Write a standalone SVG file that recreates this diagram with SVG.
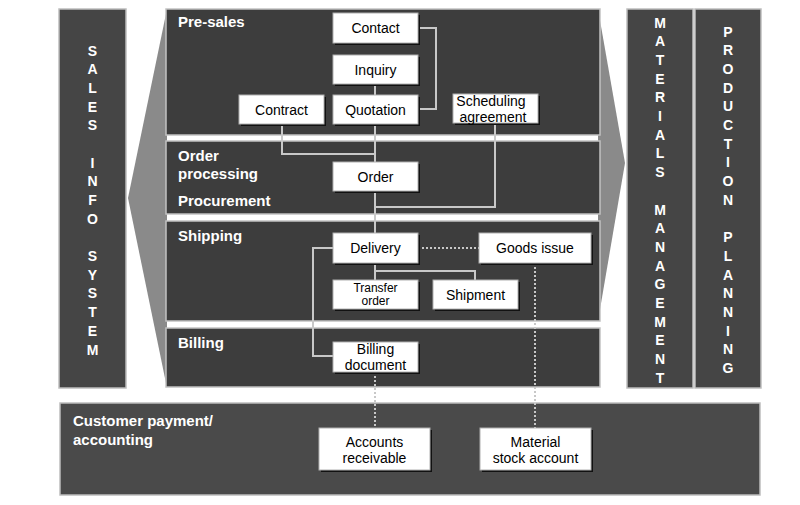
<svg xmlns="http://www.w3.org/2000/svg" width="800" height="505" viewBox="0 0 800 505">
<style>
.panel{fill:#3d3d3d;stroke:#c2c2c2;stroke-width:1.5}
.col{fill:#454545;stroke:#bdbdbd;stroke-width:1.5}
.wedge{fill:#8a8a8a}
.box{fill:#ffffff;stroke:#b0b0b0;stroke-width:1}
.shadow{fill:#111111}
.lbl{font-family:"Liberation Sans",Arial,sans-serif;font-size:15px;font-weight:bold;fill:#ffffff}
.vt{font-family:"Liberation Sans",Arial,sans-serif;font-size:14px;font-weight:bold;fill:#ffffff;text-anchor:middle}
.nt{font-family:"Liberation Sans",Arial,sans-serif;font-size:14px;fill:#000000;text-anchor:middle}
.line{fill:none;stroke:#c8c8c8;stroke-width:2}
.dot{fill:none;stroke:#c8c8c8;stroke-width:2;stroke-dasharray:2 2}
</style>
<rect width="800" height="505" fill="#ffffff"/>
<g id="wedges">
<polygon class="wedge" points="167,9 128,198 167,388"/>
<polygon class="wedge" points="598,9 625,163 598,321"/>
</g>
<g id="sales-info-system">
<rect class="col" x="59" y="9" width="67" height="379"/>
<text class="vt"><tspan x="92.5" y="55.5">S</tspan><tspan x="92.5" y="74.2">A</tspan><tspan x="92.5" y="92.9">L</tspan><tspan x="92.5" y="111.6">E</tspan><tspan x="92.5" y="130.3">S</tspan><tspan x="92.5" y="167.5">I</tspan><tspan x="92.5" y="186.2">N</tspan><tspan x="92.5" y="204.9">F</tspan><tspan x="92.5" y="223.6">O</tspan><tspan x="92.5" y="261">S</tspan><tspan x="92.5" y="279.7">Y</tspan><tspan x="92.5" y="298.4">S</tspan><tspan x="92.5" y="317.1">T</tspan><tspan x="92.5" y="335.8">E</tspan><tspan x="92.5" y="354.5">M</tspan></text>
</g>
<g id="materials-management">
<rect class="col" x="627" y="9" width="66" height="379"/>
<text class="vt"><tspan x="660" y="27.5">M</tspan><tspan x="660" y="46.2">A</tspan><tspan x="660" y="64.9">T</tspan><tspan x="660" y="83.6">E</tspan><tspan x="660" y="102.3">R</tspan><tspan x="660" y="121">I</tspan><tspan x="660" y="139.7">A</tspan><tspan x="660" y="158.4">L</tspan><tspan x="660" y="177.1">S</tspan><tspan x="660" y="214.5">M</tspan><tspan x="660" y="233.2">A</tspan><tspan x="660" y="251.9">N</tspan><tspan x="660" y="270.6">A</tspan><tspan x="660" y="289.3">G</tspan><tspan x="660" y="308">E</tspan><tspan x="660" y="326.7">M</tspan><tspan x="660" y="345.4">E</tspan><tspan x="660" y="364.1">N</tspan><tspan x="660" y="382.8">T</tspan></text>
</g>
<g id="production-planning">
<rect class="col" x="695" y="9" width="66" height="379"/>
<text class="vt"><tspan x="728" y="36.5">P</tspan><tspan x="728" y="55.2">R</tspan><tspan x="728" y="73.9">O</tspan><tspan x="728" y="92.6">D</tspan><tspan x="728" y="111.3">U</tspan><tspan x="728" y="130">C</tspan><tspan x="728" y="148.7">T</tspan><tspan x="728" y="167.4">I</tspan><tspan x="728" y="186.1">O</tspan><tspan x="728" y="204.8">N</tspan><tspan x="728" y="242.2">P</tspan><tspan x="728" y="260.9">L</tspan><tspan x="728" y="279.6">A</tspan><tspan x="728" y="298.3">N</tspan><tspan x="728" y="317">N</tspan><tspan x="728" y="335.7">I</tspan><tspan x="728" y="354.4">N</tspan><tspan x="728" y="373.1">G</tspan></text>
</g>
<g id="pre-sales">
<rect class="panel" x="166" y="9" width="434" height="126"/>
<text class="lbl" x="178" y="27">Pre-sales</text>
</g>
<g id="order-processing">
<rect class="panel" x="166" y="141" width="434" height="73"/>
<text class="lbl" x="178" y="161">Order</text>
<text class="lbl" x="178" y="179">processing</text>
<text class="lbl" x="178" y="206">Procurement</text>
</g>
<g id="shipping">
<rect class="panel" x="166" y="221" width="434" height="100"/>
<text class="lbl" x="178" y="241">Shipping</text>
</g>
<g id="billing">
<rect class="panel" x="166" y="328" width="434" height="59"/>
<text class="lbl" x="178" y="348">Billing</text>
</g>
<g id="customer-payment">
<rect class="col" x="60" y="403" width="700" height="92" style="fill:#4a4a4a"/>
<text class="lbl" x="73" y="426">Customer payment/</text>
<text class="lbl" x="73" y="445">accounting</text>
</g>
<g id="connectors">
<polyline class="line" points="418,28 436,28 436,109 418,109"/>
<line class="line" x1="375" y1="84" x2="375" y2="95"/>
<line class="line" x1="375" y1="124" x2="375" y2="162"/>
<polyline class="line" points="282,124 282,154 375,154"/>
<polyline class="line" points="495,123 495,207 375,207"/>
<line class="line" x1="375" y1="191" x2="375" y2="233"/>
<line class="line" x1="375" y1="263" x2="375" y2="280"/>
<polyline class="line" points="375,271 475,271 475,280"/>
<polyline class="line" points="333,248 313,248 313,356 333,356"/>
<line class="dot" x1="418" y1="248" x2="479" y2="248"/>
<line class="dot" x1="535" y1="263" x2="535" y2="428"/>
<line class="dot" x1="375" y1="372" x2="375" y2="428"/>
</g>
<g id="contact">
<rect class="shadow" x="335" y="15" width="85" height="30"/>
<rect class="box" x="333" y="13" width="85" height="30"/>
<text class="nt" x="375.5" y="33">Contact</text>
</g>
<g id="inquiry">
<rect class="shadow" x="335" y="57" width="85" height="29"/>
<rect class="box" x="333" y="55" width="85" height="29"/>
<text class="nt" x="375.5" y="75">Inquiry</text>
</g>
<g id="quotation">
<rect class="shadow" x="335" y="97" width="85" height="29"/>
<rect class="box" x="333" y="95" width="85" height="29"/>
<text class="nt" x="375.5" y="115">Quotation</text>
</g>
<g id="contract">
<rect class="shadow" x="241" y="97" width="85" height="29"/>
<rect class="box" x="239" y="95" width="85" height="29"/>
<text class="nt" x="281.5" y="115">Contract</text>
</g>
<g id="scheduling-agreement">
<rect class="shadow" x="455" y="96" width="85" height="29"/>
<rect class="box" x="453" y="94" width="85" height="29"/>
<text class="nt" x="491" y="106">Scheduling</text>
<text class="nt" x="493" y="122">agreement</text>
</g>
<g id="order">
<rect class="shadow" x="335" y="164" width="85" height="29"/>
<rect class="box" x="333" y="162" width="85" height="29"/>
<text class="nt" x="375.5" y="182">Order</text>
</g>
<g id="delivery">
<rect class="shadow" x="335" y="235" width="85" height="30"/>
<rect class="box" x="333" y="233" width="85" height="30"/>
<text class="nt" x="375.5" y="253">Delivery</text>
</g>
<g id="goods-issue">
<rect class="shadow" x="481" y="235" width="112" height="30"/>
<rect class="box" x="479" y="233" width="112" height="30"/>
<text class="nt" x="535" y="253">Goods issue</text>
</g>
<g id="transfer-order">
<rect class="shadow" x="335" y="282" width="85" height="29"/>
<rect class="box" x="333" y="280" width="85" height="29"/>
<text class="nt" x="375.5" y="291.5" style="font-size:12px">Transfer</text>
<text class="nt" x="375.5" y="304.5" style="font-size:12px">order</text>
</g>
<g id="shipment">
<rect class="shadow" x="435" y="282" width="85" height="29"/>
<rect class="box" x="433" y="280" width="85" height="29"/>
<text class="nt" x="475.5" y="300">Shipment</text>
</g>
<g id="billing-document">
<rect class="shadow" x="335" y="344" width="85" height="30"/>
<rect class="box" x="333" y="342" width="85" height="30"/>
<text class="nt" x="375.5" y="354">Billing</text>
<text class="nt" x="375.5" y="370">document</text>
</g>
<g id="accounts-receivable">
<rect class="shadow" x="321" y="430" width="111" height="42"/>
<rect class="box" x="319" y="428" width="111" height="42"/>
<text class="nt" x="374.5" y="447">Accounts</text>
<text class="nt" x="374.5" y="463">receivable</text>
</g>
<g id="material-stock-account">
<rect class="shadow" x="482" y="430" width="111" height="42"/>
<rect class="box" x="480" y="428" width="111" height="42"/>
<text class="nt" x="535.5" y="447">Material</text>
<text class="nt" x="535.5" y="463">stock account</text>
</g>
</svg>
